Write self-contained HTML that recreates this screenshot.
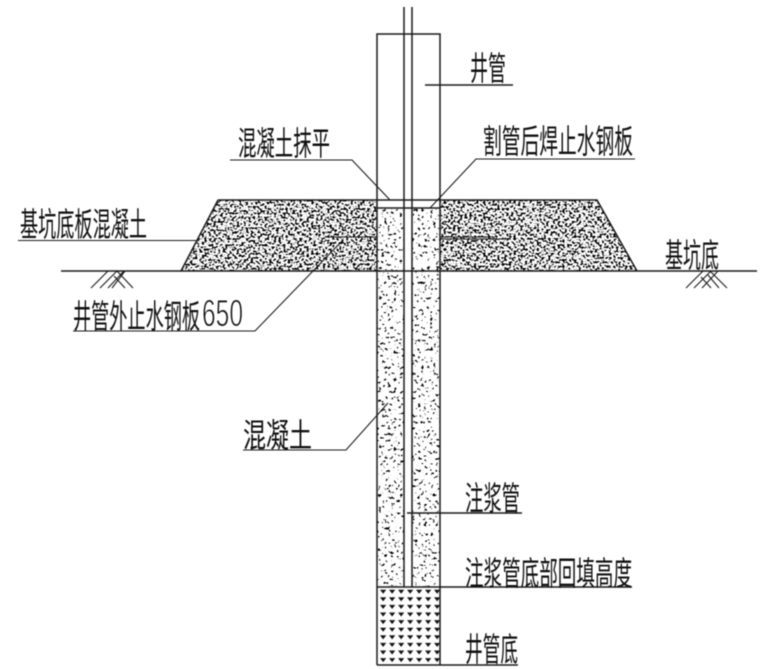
<!DOCTYPE html>
<html>
<head>
<meta charset="utf-8">
<style>
html,body{margin:0;padding:0;background:#fff;width:760px;height:669px;overflow:hidden}
svg{display:block;filter:blur(0.4px)}
text{font-family:"Liberation Sans","Noto Sans CJK SC",sans-serif;font-size:33px;fill:#111;font-weight:400}
.n{font-family:"Liberation Sans",sans-serif;font-size:38px;font-weight:400;stroke:#fff;stroke-width:0.9px}
.l{stroke:#1a1a1a;stroke-width:1.5;fill:none}
.t{stroke:#1a1a1a;stroke-width:1.1;fill:none}
</style>
</head>
<body>
<svg width="760" height="669" viewBox="0 0 760 669" xmlns="http://www.w3.org/2000/svg">
<defs>
<filter id="slab" x="0" y="0" width="100%" height="100%" color-interpolation-filters="sRGB">
<feTurbulence type="fractalNoise" baseFrequency="0.43 0.47" numOctaves="1" seed="7"/>
<feColorMatrix type="matrix" values="0 0 0 0 0  0 0 0 0 0  0 0 0 0 0  10 0 0 0 -5.0"/>
</filter>
<filter id="conc" x="0" y="0" width="100%" height="100%" color-interpolation-filters="sRGB">
<feTurbulence type="fractalNoise" baseFrequency="0.33" numOctaves="2" seed="11"/>
<feColorMatrix type="matrix" values="0 0 0 0 0  0 0 0 0 0  0 0 0 0 0  16 0 0 0 -10.2"/>
</filter>
<pattern id="grav" x="379" y="589" width="9" height="7.6" patternUnits="userSpaceOnUse">
<path d="M1 0.7 L7.3 0.7 L4.15 4.8 Z" fill="#111"/>
</pattern>
<clipPath id="cs"><path d="M218 200 L597 200 L637 271 L181 271 Z"/></clipPath>
<clipPath id="cp"><path d="M377 208 H404 V587 H377 Z M412 208 H440 V587 H412 Z"/></clipPath>
</defs>

<!-- fills -->
<g clip-path="url(#cs)"><rect x="170" y="195" width="480" height="80" filter="url(#slab)"/></g>
<rect x="377" y="200" width="63" height="71" fill="#fff"/>
<g clip-path="url(#cp)"><rect x="370" y="200" width="80" height="395" filter="url(#conc)"/></g>
<rect x="377" y="587" width="63" height="78" fill="url(#grav)"/>

<!-- structure -->
<path class="l" d="M218 200 H597 L637 271 M218 200 L181 271"/>
<path class="l" d="M61 271 H757"/>
<path class="l" d="M377 665 V34 H440 V665 M377 665 H440"/>
<path class="l" d="M404 7 V587 M412 7 V587"/>
<path class="l" d="M377 208 H440"/>
<path class="l" d="M377 587 H440"/>

<!-- leaders -->
<path class="l" d="M425 85 H513"/>
<path class="t" d="M230 160 H352 L390 200"/>
<path class="t" d="M635 159 H476 L430 208"/>
<path class="t" d="M18 240.5 H196"/>
<path class="t" d="M325 237 H377 M440 237 H495 M440 239 H510"/>
<path class="t" d="M73 331 H255 L343 240"/>
<path class="t" d="M243 450 H346 L388 403"/>
<path class="l" d="M407 513 H522"/>
<path class="l" d="M440 587 H632"/>
<path class="l" d="M440 665 H518"/>

<!-- ground hatches -->
<path class="t" d="M91 288 L108 271 M100 288 L117 271 M108 288 L124 271 M112 288 L125 271 M133 288 L117 271 M125 288 L114 276"/>
<path class="t" d="M686 288 L703 271 M694 288 L711 271 M702 288 L718 271 M711 288 L701 277 M719 288 L708 275 M727 288 L710 271"/>

<!-- labels -->
<text x="470" y="80" textLength="36" lengthAdjust="spacingAndGlyphs">井管</text>
<text x="238" y="155" textLength="92" lengthAdjust="spacingAndGlyphs">混凝土抹平</text>
<text x="483" y="153" textLength="150" lengthAdjust="spacingAndGlyphs">割管后焊止水钢板</text>
<text x="20" y="236" textLength="127" lengthAdjust="spacingAndGlyphs">基坑底板混凝土</text>
<text x="665" y="267" textLength="54" lengthAdjust="spacingAndGlyphs">基坑底</text>
<text x="73" y="328" textLength="127" lengthAdjust="spacingAndGlyphs">井管外止水钢板</text>
<text class="n" x="202" y="326" textLength="41" lengthAdjust="spacingAndGlyphs">650</text>
<text x="243" y="447" textLength="69" lengthAdjust="spacingAndGlyphs">混凝土</text>
<text x="465" y="510" textLength="55" lengthAdjust="spacingAndGlyphs">注浆管</text>
<text x="465" y="585" textLength="167" lengthAdjust="spacingAndGlyphs">注浆管底部回填高度</text>
<text x="465" y="661" textLength="53" lengthAdjust="spacingAndGlyphs">井管底</text>
</svg>
</body>
</html>
